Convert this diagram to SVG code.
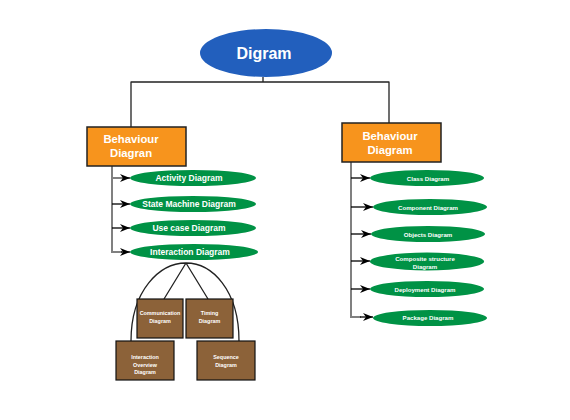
<svg xmlns="http://www.w3.org/2000/svg" width="570" height="420" viewBox="0 0 570 420">
<defs>
<marker id="ah" viewBox="0 0 10 8" refX="10" refY="4" markerWidth="10" markerHeight="8" markerUnits="userSpaceOnUse" orient="auto">
<path d="M0,0 L10,4 L0,8 L3,4 z" fill="#000"/>
</marker>
<style>
text{font-family:"Liberation Sans",Arial,sans-serif;font-weight:bold;fill:#fff;text-anchor:middle;dominant-baseline:central}
.tree{fill:none;stroke:#222;stroke-width:1.3}
.gray{fill:none;stroke:#808080;stroke-width:2}
.blk{fill:none;stroke:#000;stroke-width:1.3}
.box{fill:#f7941d;stroke:#222;stroke-width:1.5}
.ell{fill:#009245}
.br{fill:#8c6239;stroke:#111;stroke-width:1.2}
.t1{font-size:8.5px}
.t2{font-size:6.1px}
.t3{font-size:5.4px}
.t4{font-size:11.3px}
</style>
</defs>
<rect width="570" height="420" fill="#fff"/>
<g id="connectors">
<path class="tree" d="M263,77 V82 M131,82 H389 M131,81.4 V127 M389,81.4 V123"/>
<path class="gray" d="M112,166 V252 H122"/>
<path class="gray" d="M112,178 H122"/>
<line class="blk" x1="122" y1="178" x2="130" y2="178" marker-end="url(#ah)"/>
<line class="blk" x1="112" y1="204" x2="130" y2="204" marker-end="url(#ah)"/>
<line class="blk" x1="112" y1="228" x2="130" y2="228" marker-end="url(#ah)"/>
<line class="blk" x1="121" y1="252" x2="130" y2="252" marker-end="url(#ah)"/>
<path class="gray" d="M351,162 V317 H361"/>
<line class="blk" x1="351" y1="178" x2="370" y2="178" marker-end="url(#ah)"/>
<line class="blk" x1="351" y1="207" x2="373" y2="207" marker-end="url(#ah)"/>
<line class="blk" x1="351" y1="234" x2="371" y2="234" marker-end="url(#ah)"/>
<line class="blk" x1="351" y1="261" x2="370" y2="261" marker-end="url(#ah)"/>
<line class="blk" x1="351" y1="289" x2="370" y2="289" marker-end="url(#ah)"/>
<line class="blk" x1="360" y1="317" x2="373" y2="317" marker-end="url(#ah)"/>
<path class="tree" d="M186,263 L164,299 M186,263 L208,299 M131,341 C131,290 160,263 186,263 C212,263 239,290 239,341"/>
</g>
<g id="digram">
<ellipse cx="266" cy="53" rx="66" ry="24" fill="#225fbd"/>
<text x="264" y="53" style="font-size:16px">Digram</text>
</g>
<g id="behaviour-left">
<rect class="box" x="87" y="127" width="99" height="39"/>
<text class="t4" x="131" y="139">Behaviour</text>
<text class="t4" x="131" y="153">Diagran</text>
</g>
<g id="behaviour-right">
<rect class="box" x="342" y="123" width="99" height="39"/>
<text class="t4" x="390" y="136">Behaviour</text>
<text class="t4" x="390" y="150">Diagram</text>
</g>
<g id="activity"><ellipse class="ell" cx="193" cy="178" rx="63" ry="8"/><text class="t1" x="189" y="178">Activity Diagram</text></g>
<g id="state-machine"><ellipse class="ell" cx="193" cy="204" rx="63" ry="8"/><text class="t1" x="189" y="204">State Machine Diagram</text></g>
<g id="use-case"><ellipse class="ell" cx="193" cy="228" rx="63" ry="8"/><text class="t1" x="189" y="228">Use case Diagram</text></g>
<g id="interaction"><ellipse class="ell" cx="194" cy="252" rx="64" ry="8"/><text class="t1" x="190" y="252">Interaction Diagram</text></g>
<g id="class"><ellipse class="ell" cx="427" cy="178" rx="57" ry="8"/><text class="t2" x="428" y="178">Class Diagram</text></g>
<g id="component"><ellipse class="ell" cx="430" cy="207" rx="57" ry="8"/><text class="t2" x="428" y="207">Component Diagram</text></g>
<g id="objects"><ellipse class="ell" cx="428" cy="234" rx="57" ry="8"/><text class="t2" x="428" y="234">Objects Diagram</text></g>
<g id="composite"><ellipse class="ell" cx="427" cy="261.5" rx="57" ry="9"/><text class="t2" x="425" y="258.5">Composite structure</text><text class="t2" x="425" y="266.5">Diagram</text></g>
<g id="deployment"><ellipse class="ell" cx="427" cy="289" rx="57" ry="8"/><text class="t2" x="425" y="289">Deployment Diagram</text></g>
<g id="package"><ellipse class="ell" cx="430" cy="318" rx="57" ry="8"/><text class="t2" x="428" y="317">Package Diagram</text></g>
<g id="communication"><rect class="br" x="137" y="299" width="46" height="39"/><text class="t3" x="160" y="313">Communication</text><text class="t3" x="160" y="320.5">Diagram</text></g>
<g id="timing"><rect class="br" x="186" y="299" width="47" height="39"/><text class="t3" x="209.5" y="313">Timing</text><text class="t3" x="209.5" y="320.5">Diagram</text></g>
<g id="interaction-overview"><rect class="br" x="116" y="341" width="58" height="39"/><text class="t3" x="145" y="357">Interaction</text><text class="t3" x="145" y="364.5">Overview</text><text class="t3" x="145" y="372">Diagram</text></g>
<g id="sequence"><rect class="br" x="197" y="341" width="58" height="39"/><text class="t3" x="226" y="357">Sequence</text><text class="t3" x="226" y="364.5">Diagram</text></g>
</svg>
